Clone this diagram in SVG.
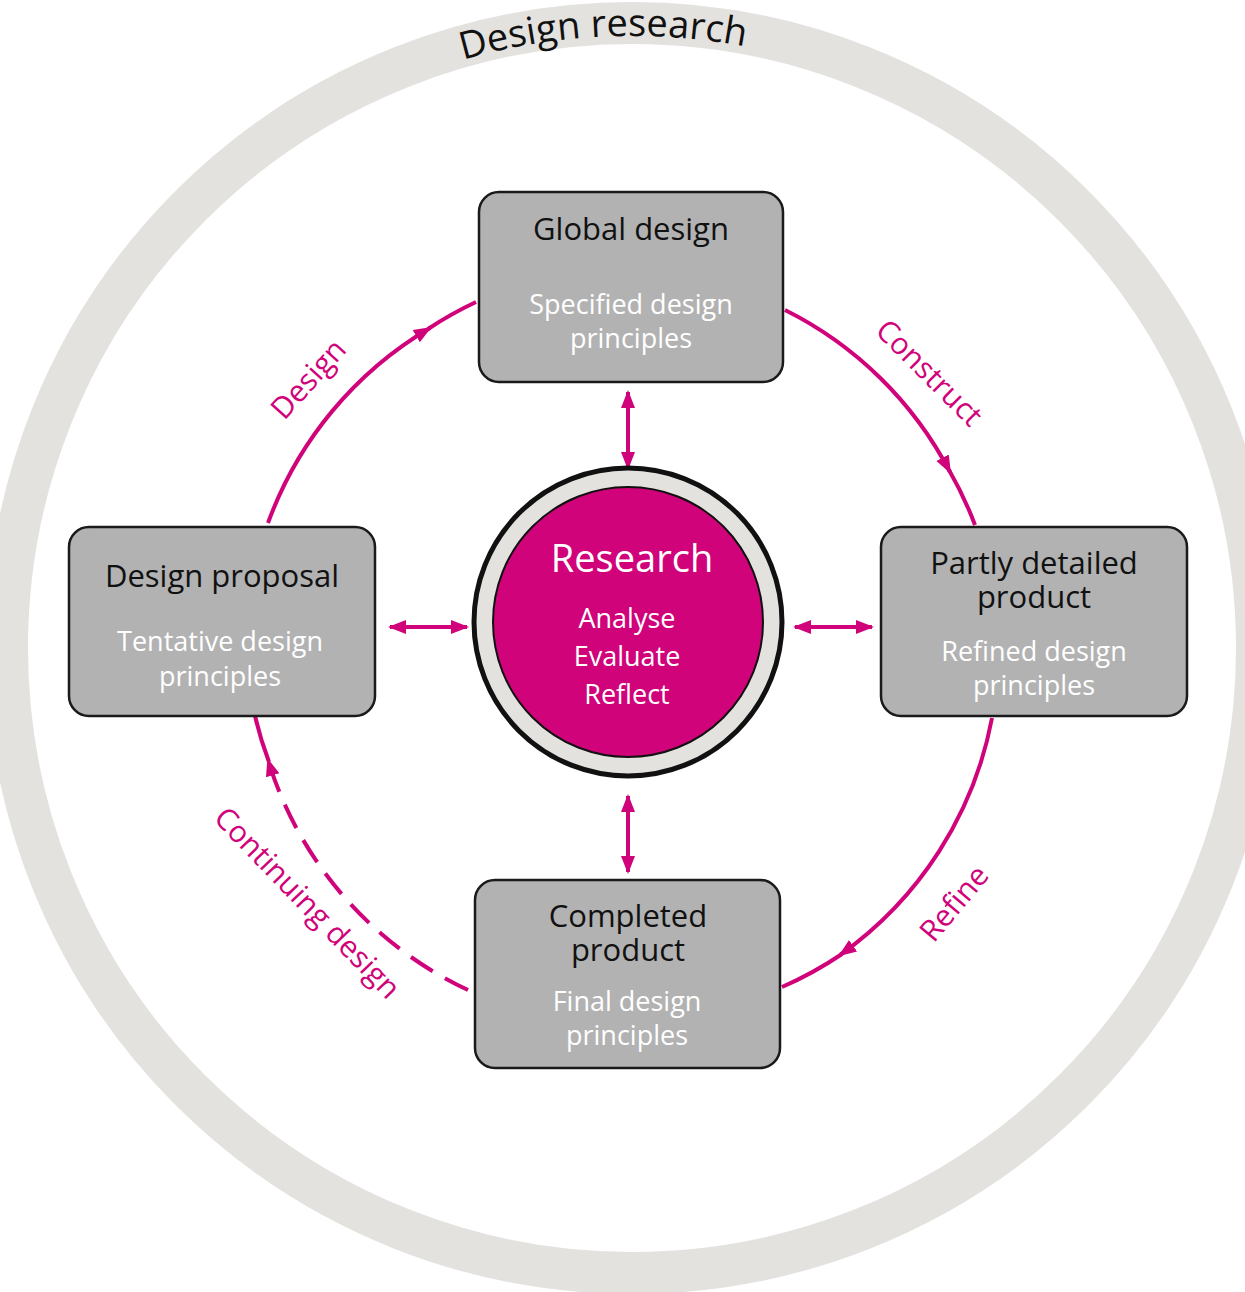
<svg xmlns="http://www.w3.org/2000/svg" width="1245" height="1292" viewBox="0 0 1245 1292">
<style>
.box{fill:#b2b2b2;stroke:#1a1a1a;stroke-width:2.5}
.t{font-family:"Open Sans","DejaVu Sans",sans-serif;text-anchor:middle}
.title{font-size:31px;fill:#111}
.sub{font-size:27px;fill:#fff}
.lab{font-size:30px;fill:#d0037a;font-family:"Open Sans","DejaVu Sans",sans-serif;text-anchor:middle}
.arc{fill:none;stroke:#d0037a;stroke-width:4}
</style>
<defs>
<marker id="ah2" markerWidth="18" markerHeight="18" refX="16" refY="9" orient="auto" markerUnits="userSpaceOnUse" viewBox="0 0 18 18"><path d="M0,2 L18,9 L0,16 Z" fill="#d0037a"/></marker>
<marker id="ah2s" markerWidth="18" markerHeight="18" refX="16" refY="9" orient="auto-start-reverse" markerUnits="userSpaceOnUse" viewBox="0 0 18 18"><path d="M0,2 L18,9 L0,16 Z" fill="#d0037a"/></marker>
<path id="ringtext" d="M20,648 A612,612 0 0 1 1244,648"/>
</defs>
<rect width="1245" height="1292" fill="#fff"/>
<g id="ring">
<circle cx="632" cy="648" r="625" fill="none" stroke="#e3e2df" stroke-width="42"/>
<text class="t" font-size="38" fill="#111"><textPath href="#ringtext" startOffset="48.5%">Design research</textPath></text>
</g>
<g id="connectors">
<path class="arc" d="M268,523 A375,375 0 0 1 430,328" marker-end="url(#ah2)"/>
<path class="arc" d="M428,329 A375,375 0 0 1 476,302"/>
<path class="arc" d="M785,310 A375,375 0 0 1 950,472" marker-end="url(#ah2)"/>
<path class="arc" d="M949,470 A375,375 0 0 1 975,525"/>
<path class="arc" d="M992,718 A375,375 0 0 1 840,955" marker-end="url(#ah2)"/>
<path class="arc" d="M842,954 A375,375 0 0 1 782,987"/>
<path class="arc" d="M468,990 A375,375 0 0 1 268,760" stroke-dasharray="26,14" marker-end="url(#ah2)"/>
<path class="arc" d="M269,762 A375,375 0 0 1 255,716"/>
<line class="arc" x1="628" y1="392" x2="628" y2="468" marker-start="url(#ah2s)" marker-end="url(#ah2)"/>
<line class="arc" x1="628" y1="796" x2="628" y2="872" marker-start="url(#ah2s)" marker-end="url(#ah2)"/>
<line class="arc" x1="390" y1="627" x2="467" y2="627" marker-start="url(#ah2s)" marker-end="url(#ah2)"/>
<line class="arc" x1="795" y1="627" x2="872" y2="627" marker-start="url(#ah2s)" marker-end="url(#ah2)"/>
<text class="lab" transform="translate(316,386) rotate(-48)">Design</text>
<text class="lab" transform="translate(922,380) rotate(45)">Construct</text>
<text class="lab" transform="translate(962,910) rotate(-50)">Refine</text>
<text class="lab" transform="translate(300,910) rotate(46)">Continuing design</text>
</g>
<g id="research">
<circle cx="628" cy="622" r="154" fill="#e3e2df" stroke="#111" stroke-width="5"/>
<circle cx="628" cy="622" r="135" fill="#d0037a" stroke="#111" stroke-width="2"/>
<text class="t" x="632" y="572" font-size="38" fill="#fff">Research</text>
<text class="t sub" x="627" y="628">Analyse</text>
<text class="t sub" x="627" y="666">Evaluate</text>
<text class="t sub" x="627" y="704">Reflect</text>
</g>
<g id="global">
<rect class="box" x="479" y="192" width="304" height="190" rx="20"/>
<text class="t title" x="631" y="240">Global design</text>
<text class="t sub" x="631" y="314">Specified design</text>
<text class="t sub" x="631" y="348">principles</text>
</g>
<g id="proposal">
<rect class="box" x="69" y="527" width="306" height="189" rx="20"/>
<text class="t title" x="222" y="587">Design proposal</text>
<text class="t sub" x="220" y="651">Tentative design</text>
<text class="t sub" x="220" y="686">principles</text>
</g>
<g id="partly">
<rect class="box" x="881" y="527" width="306" height="189" rx="20"/>
<text class="t title" x="1034" y="574">Partly detailed</text>
<text class="t title" x="1034" y="608">product</text>
<text class="t sub" x="1034" y="661">Refined design</text>
<text class="t sub" x="1034" y="695">principles</text>
</g>
<g id="completed">
<rect class="box" x="475" y="880" width="305" height="188" rx="20"/>
<text class="t title" x="628" y="927">Completed</text>
<text class="t title" x="628" y="961">product</text>
<text class="t sub" x="627" y="1011">Final design</text>
<text class="t sub" x="627" y="1045">principles</text>
</g>
</svg>
